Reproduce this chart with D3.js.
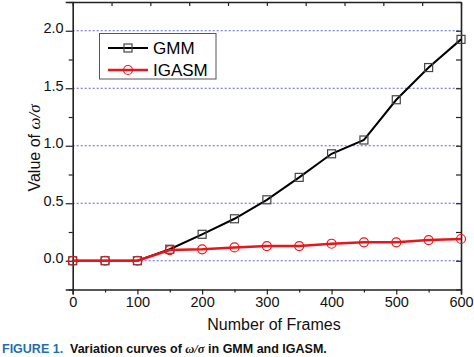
<!DOCTYPE html>
<html><head><meta charset="utf-8">
<script src="https://cdn.jsdelivr.net/npm/d3@7"></script>
<style>body{margin:0;background:#fff;} svg{display:block;font-family:"Liberation Sans",Arial,sans-serif;}</style>
</head><body>
<svg id="c" width="474" height="357"></svg>
<script>
const frames = [0,50,100,150,200,250,300,350,400,450,500,550,600];
const gmm    = [0,0,0,0.10,0.23,0.365,0.53,0.725,0.93,1.05,1.40,1.68,1.925];
const igasm  = [0,0,0,0.093,0.099,0.116,0.128,0.128,0.148,0.16,0.16,0.18,0.189];
const xTicks = [0,100,200,300,400,500,600];
const yTicks = [0.0,0.5,1.0,1.5,2.0];
const gridVals = [0.0,0.5,1.0,1.5,2.0];

const svg = d3.select("#c");
const x = d3.scaleLinear().domain([0,600]).range([72.7,461]);
const y = d3.scaleLinear().domain([-0.25,2.25]).range([289.5,2]);
const L=x.range()[0], R=x.range()[1], T=y.range()[1], B=y.range()[0];

// grid
svg.append("g").selectAll("line").data(gridVals).join("line")
  .attr("x1",L).attr("x2",R).attr("y1",d=>y(d)).attr("y2",d=>y(d))
  .attr("stroke","#5f5fe6").attr("stroke-width",1).attr("stroke-dasharray","2,2");

// left axis
const yAx = svg.append("g").attr("transform",`translate(${L},0)`)
  .call(d3.axisLeft(y).tickValues(yTicks).tickFormat(d3.format(".1f")).tickSize(7).tickPadding(2));
svg.append("g").attr("transform",`translate(${L},0)`)
  .call(d3.axisLeft(y).tickValues(d3.range(-0.25,2.26,0.5)).tickFormat("").tickSize(4))
  .select(".domain").remove();
// bottom axis
svg.append("g").attr("transform",`translate(0,${B})`)
  .call(d3.axisBottom(x).tickValues(xTicks).tickFormat(d3.format("d")).tickSize(5).tickPadding(2));
svg.append("g").attr("transform",`translate(0,${B})`)
  .call(d3.axisBottom(x).tickValues(d3.range(50,600,100)).tickFormat("").tickSize(3))
  .select(".domain").remove();
// top axis (inward ticks)
svg.append("g").attr("transform",`translate(0,${T})`)
  .call(d3.axisBottom(x).tickValues(d3.range(0,601,60)).tickFormat("").tickSize(4).tickSizeOuter(0));
// right axis (inward ticks)
svg.append("g").attr("transform",`translate(${R},0)`)
  .call(d3.axisLeft(y).tickValues(d3.range(-0.25,2.26,0.25)).tickFormat("").tickSize(5).tickSizeOuter(0));

svg.selectAll(".domain").attr("stroke","#222").attr("stroke-width",1.6);
svg.selectAll(".tick line").attr("stroke","#222").attr("stroke-width",1.2);
svg.selectAll(".tick text").attr("font-family","Liberation Sans, Arial, sans-serif").attr("font-size",14.5).attr("fill","#111");
yAx.selectAll(".tick text").attr("dy","0.15em");

// lines
const lineG = d3.line().x((d,i)=>x(frames[i])).y(d=>y(d));
svg.append("path").datum(gmm).attr("d",lineG).attr("fill","none").attr("stroke","#000").attr("stroke-width",2);
svg.append("g").selectAll("rect").data(gmm).join("rect")
  .attr("x",(d,i)=>x(frames[i])-4).attr("y",d=>y(d)-4).attr("width",8).attr("height",8)
  .attr("fill","none").attr("stroke","#444").attr("stroke-width",1.2);
svg.append("path").datum(igasm).attr("d",lineG).attr("fill","none").attr("stroke","#e8161b").attr("stroke-width",2.5);
svg.append("g").selectAll("circle").data(igasm).join("circle")
  .attr("cx",(d,i)=>x(frames[i])).attr("cy",d=>y(d)).attr("r",4.5)
  .attr("fill","none").attr("stroke","#e8161b").attr("stroke-width",1.2);

// legend
const lg = svg.append("g");
lg.append("rect").attr("x",99.5).attr("y",33.5).attr("width",116.5).attr("height",45.5)
  .attr("fill","#fff").attr("stroke","#555").attr("stroke-width",1);
lg.append("line").attr("x1",108).attr("x2",148).attr("y1",48).attr("y2",48).attr("stroke","#000").attr("stroke-width",2);
lg.append("rect").attr("x",124).attr("y",44).attr("width",8).attr("height",8).attr("fill","none").attr("stroke","#444").attr("stroke-width",1.2);
lg.append("text").attr("x",153).attr("y",54).attr("font-size",17).text("GMM");
lg.append("line").attr("x1",108).attr("x2",148).attr("y1",70).attr("y2",70).attr("stroke","#e8161b").attr("stroke-width",2.5);
lg.append("circle").attr("cx",128).attr("cy",70).attr("r",4.5).attr("fill","none").attr("stroke","#e8161b").attr("stroke-width",1.2);
lg.append("text").attr("x",153).attr("y",76).attr("font-size",17).text("IGASM");

// axis titles
svg.append("text").attr("x",274).attr("y",330).attr("text-anchor","middle").attr("font-size",16).attr("fill","#111").text("Number of Frames");
const yt = svg.append("text").attr("transform","translate(40,148) rotate(-90)").attr("text-anchor","middle").attr("font-size",16).attr("fill","#111");
yt.append("tspan").text("Value of ");
yt.append("tspan").attr("font-family","Liberation Serif, Times New Roman, serif").attr("font-style","italic").attr("font-size",17).text("ω/σ");

// caption
const cap = svg.append("text").attr("y",353).attr("font-size",12.5).attr("font-weight","bold").attr("fill","#111");
cap.append("tspan").attr("x",2).attr("fill","#1f6fb0").text("FIGURE 1.");
cap.append("tspan").attr("x",70).text("Variation curves of ");
cap.append("tspan").attr("font-family","Liberation Serif, serif").attr("font-style","italic").text("ω/σ");
cap.append("tspan").text(" in GMM and IGASM.");
</script>
</body></html>
